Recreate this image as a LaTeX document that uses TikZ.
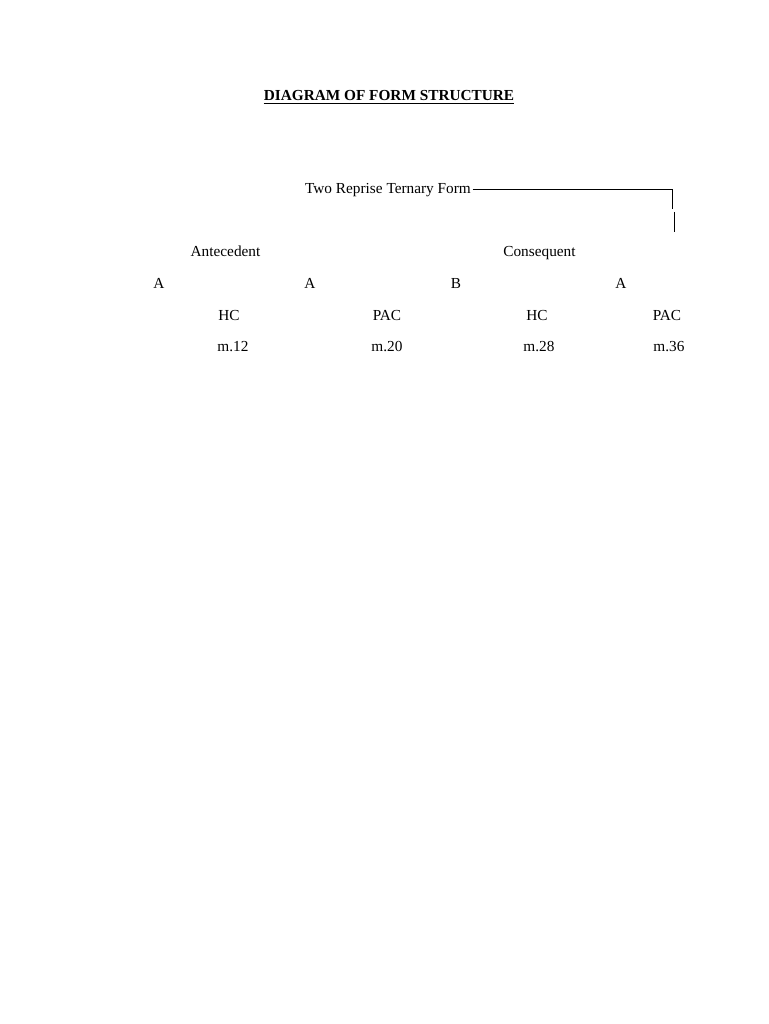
\documentclass[tikz,border=0pt]{standalone}
\usepackage{fontspec}
\setmainfont{Liberation Serif}
\usetikzlibrary{positioning}

\begin{document}
\begin{tikzpicture}[
    x=1pt, y=-1pt,
    txt/.style={anchor=base, inner sep=0pt, font=\fontsize{15.3}{18}\selectfont},
    title/.style={txt, font=\fontsize{15.3}{18}\selectfont\bfseries},
    bar/.style={line width=0.9pt}
]
\useasboundingbox (0,0) rectangle (768,1024);

% Title
\node[title] (title) at (389,100.5) {DIAGRAM OF FORM STRUCTURE};
\draw[bar] ([yshift=-2.5pt]title.base west) -- ([yshift=-2.5pt]title.base east);

% Form and bracket
\node[txt, inner xsep=1.5pt] (form) at (388,194) {Two Reprise Ternary Form};
\coordinate (corner) at (672,189.5);
\coordinate (tick) at (672,209);
\coordinate (tick2top) at (674,212);
\coordinate (tick2bot) at (674,232);
\draw[bar] (form.east |- corner) -- (corner) -- (tick);
\draw[bar] (tick2top) -- (tick2bot);

% Phrases
\node[txt] (ante) at (225.5,256.5) {Antecedent};
\node[txt] (cons) at (539.5,256.5) {Consequent};

% Sections
\node[txt] (a1) at (159,288.5) {A};
\node[txt] (a2) at (310,288.5) {A};
\node[txt] (b1) at (456,288.5) {B};
\node[txt] (a3) at (621,288.5) {A};

% Cadences
\node[txt] (hc1) at (229,320.5) {HC};
\node[txt] (pac1) at (387,320.5) {PAC};
\node[txt] (hc2) at (537,320.5) {HC};
\node[txt] (pac2) at (667,320.5) {PAC};

% Measures
\node[txt] (m12) at (233,351.5) {m.12};
\node[txt] (m20) at (387,351.5) {m.20};
\node[txt] (m28) at (539,351.5) {m.28};
\node[txt] (m36) at (669,351.5) {m.36};

\end{tikzpicture}
\end{document}
